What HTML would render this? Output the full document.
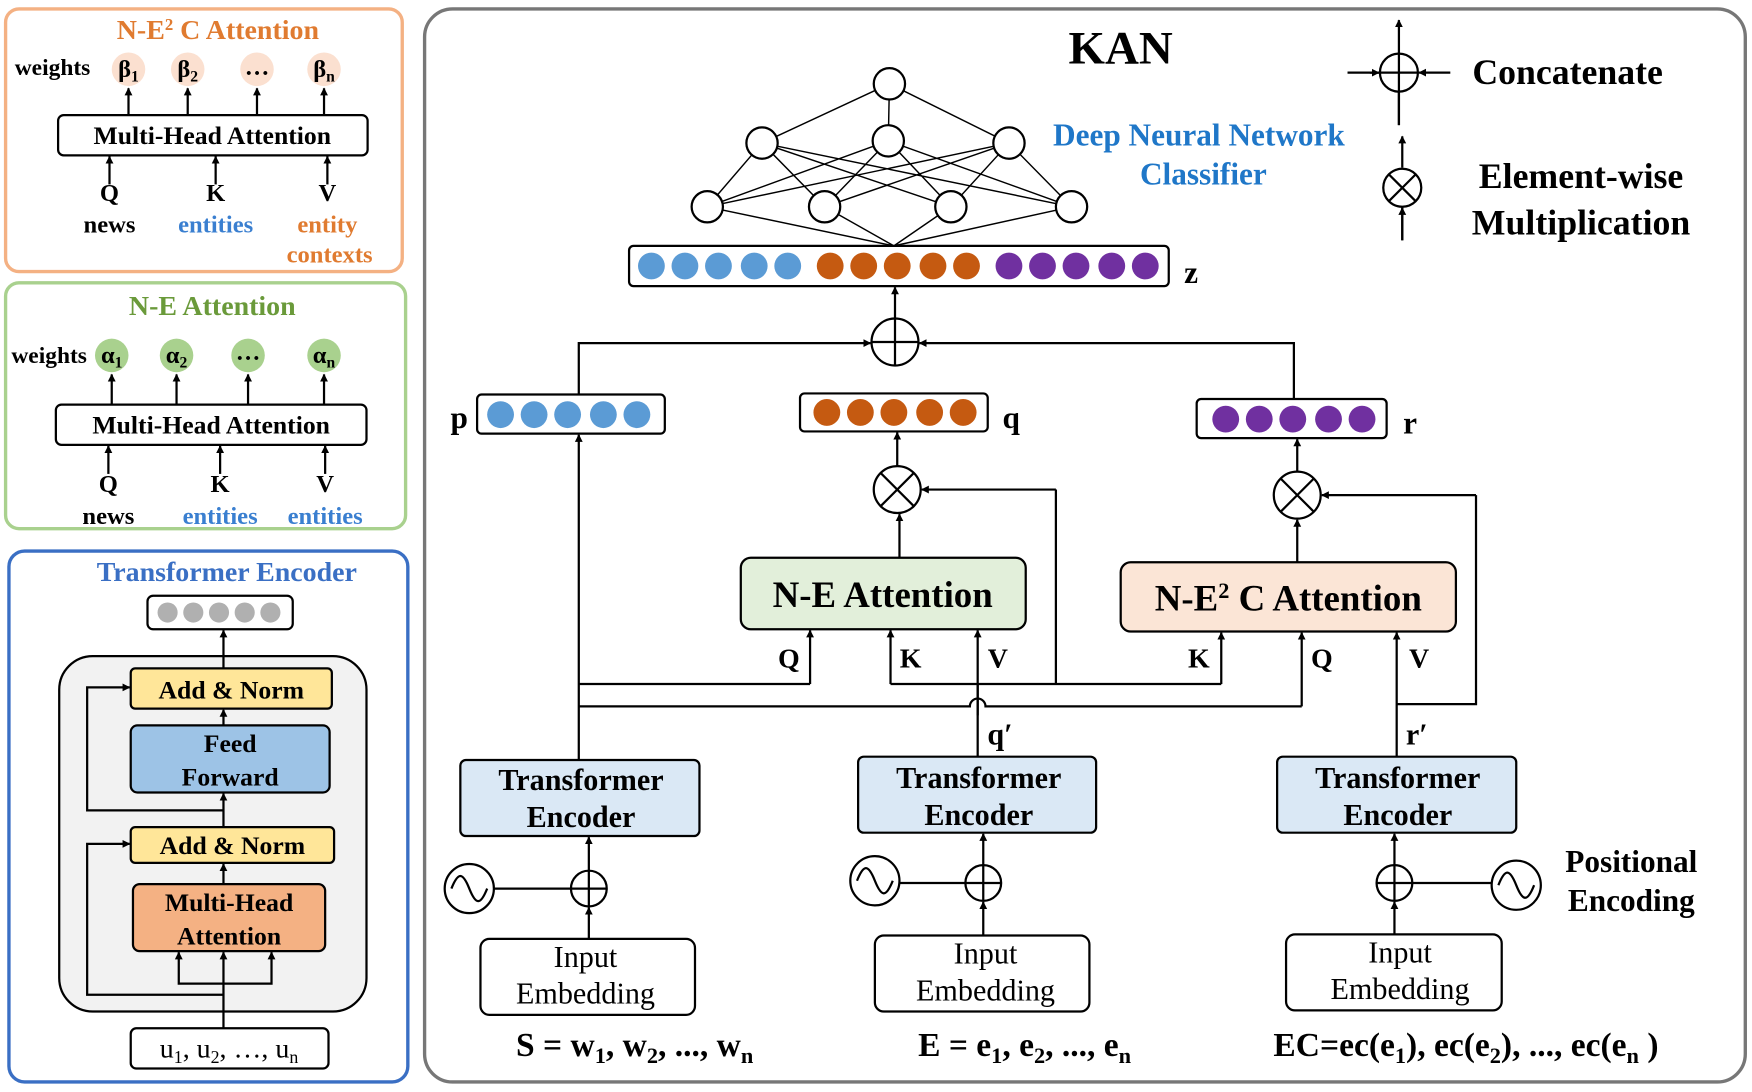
<!DOCTYPE html>
<html><head><meta charset="utf-8"><style>html,body{margin:0;padding:0;background:#fff}svg{display:block}text{font-family:"Liberation Serif",serif;font-weight:bold}</style></head><body>
<svg width="1752" height="1092" viewBox="0 0 1568 977" preserveAspectRatio="none" xmlns="http://www.w3.org/2000/svg">
<defs><marker id="a" viewBox="0 0 10 10" refX="9" refY="5" markerWidth="7" markerHeight="9" orient="auto-start-reverse" markerUnits="userSpaceOnUse"><path d="M0,0 L10,5 L0,10z" fill="#000"/></marker></defs>
<g stroke="#000" stroke-width="2" fill="none">
<rect x="5" y="8" width="355" height="235" rx="12" stroke="#f4b183" stroke-width="3"/>
<rect x="52" y="103" width="277" height="36" rx="5"/>
<rect x="5" y="253" width="358" height="220" rx="12" stroke="#a9d18e" stroke-width="3"/>
<rect x="50" y="362" width="278" height="36" rx="5"/>
<rect x="8" y="493" width="357" height="475" rx="14" stroke="#3a6fc4" stroke-width="3"/>
<rect x="53" y="587" width="275" height="318" rx="30" fill="#f2f2f2"/>
<rect x="132" y="533" width="130" height="30" rx="5" fill="#fff"/>
<rect x="117" y="598" width="180" height="36" rx="4" fill="#ffe699"/>
<rect x="117" y="649" width="178" height="60" rx="6" fill="#9dc3e6"/>
<rect x="117" y="740" width="182" height="32" rx="4" fill="#ffe699"/>
<rect x="119" y="791" width="172" height="60" rx="6" fill="#f4b183"/>
<rect x="117" y="920" width="177" height="36" rx="5" fill="#fff"/>
<rect x="380" y="8" width="1182" height="960" rx="25" stroke="#777" stroke-width="3"/>
</g>
<g fill="#fbe0d0"><circle cx="115" cy="62" r="15"/><circle cx="168" cy="62" r="15"/><circle cx="230" cy="62" r="15"/><circle cx="290" cy="62" r="15"/></g>
<g fill="#a9d18e"><circle cx="100" cy="318" r="15"/><circle cx="158" cy="318" r="15"/><circle cx="222" cy="318" r="15"/><circle cx="290" cy="318" r="15"/></g>
<g fill="#b0b0b0"><circle cx="150" cy="548" r="9"/><circle cx="173" cy="548" r="9"/><circle cx="196" cy="548" r="9"/><circle cx="219" cy="548" r="9"/><circle cx="242" cy="548" r="9"/></g>
<g stroke="#000" stroke-width="2" fill="none" marker-end="url(#a)">
<path d="M115 103V79"/><path d="M168 103V79"/><path d="M230 103V79"/><path d="M290 103V79"/>
<path d="M98 165V140"/><path d="M193 165V140"/><path d="M293 165V140"/>
<path d="M100 362V335"/><path d="M158 362V335"/><path d="M222 362V335"/><path d="M290 362V335"/>
<path d="M97 424V399"/><path d="M197 424V399"/><path d="M291 424V399"/>
<path d="M200 598V564"/><path d="M200 649V635"/><path d="M200 740V710"/><path d="M200 791V773"/>
<path d="M200 920V852"/><path d="M200 880H160V852"/><path d="M200 880H243V852"/>
<path d="M200 890H78V755H116"/><path d="M200 725H78V615H116"/>
</g>
<g font-size="22" text-anchor="middle">
<text x="195" y="35" fill="#e07b30" font-size="25">N-E<tspan font-size="15" dy="-8">2</tspan><tspan dy="8"> C Attention</tspan></text>
<text x="47" y="67" font-size="21">weights</text>
<text x="115" y="69">β<tspan font-size="14" dy="4">1</tspan></text><text x="168" y="69">β<tspan font-size="14" dy="4">2</tspan></text><text x="230" y="67">…</text><text x="290" y="69">β<tspan font-size="14" dy="4">n</tspan></text>
<text x="190" y="129" font-size="23">Multi-Head Attention</text>
<text x="98" y="180">Q</text><text x="193" y="180">K</text><text x="293" y="180">V</text>
<text x="98" y="208">news</text><text x="193" y="208" fill="#3a7fd0">entities</text><text x="293" y="208" fill="#e07b30">entity</text><text x="295" y="235" fill="#e07b30">contexts</text>
<text x="190" y="282" fill="#6a9a3a" font-size="25">N-E Attention</text>
<text x="44" y="325" font-size="21">weights</text>
<text x="100" y="325">α<tspan font-size="14" dy="4">1</tspan></text><text x="158" y="325">α<tspan font-size="14" dy="4">2</tspan></text><text x="222" y="322">…</text><text x="290" y="325">α<tspan font-size="14" dy="4">n</tspan></text>
<text x="189" y="388" font-size="23">Multi-Head Attention</text>
<text x="97" y="440">Q</text><text x="197" y="440">K</text><text x="291" y="440">V</text>
<text x="97" y="469">news</text><text x="197" y="469" fill="#3a7fd0">entities</text><text x="291" y="469" fill="#3a7fd0">entities</text>
<text x="203" y="520" fill="#3a6fc4" font-size="25">Transformer Encoder</text>
<text x="207" y="625" font-size="23">Add &amp; Norm</text>
<text x="206" y="673" font-size="23">Feed</text><text x="206" y="703" font-size="23">Forward</text>
<text x="208" y="764" font-size="23">Add &amp; Norm</text>
<text x="205" y="815" font-size="23">Multi-Head</text><text x="205" y="845" font-size="23">Attention</text>
<text x="205" y="946" font-size="25" style="font-weight:normal">u<tspan font-size="16" dy="5">1</tspan><tspan dy="-5">, u</tspan><tspan font-size="16" dy="5">2</tspan><tspan dy="-5">, …, u</tspan><tspan font-size="16" dy="5">n</tspan></text>
</g>

<g stroke="#000" stroke-width="1.3">
<path d="M796 75L682 128M796 75L795 126M796 75L903 128"/>
<path d="M682 128L633 185M682 128L738 185M682 128L851 185M682 128L959 185M795 126L633 185M795 126L738 185M795 126L851 185M795 126L959 185M903 128L633 185M903 128L738 185M903 128L851 185M903 128L959 185"/>
<path d="M633 185L800 220M738 185L800 220M851 185L800 220M959 185L800 220"/>
</g>
<g stroke="#000" stroke-width="2" fill="#fff">
<circle cx="796" cy="75" r="14"/><circle cx="682" cy="128" r="14"/><circle cx="795" cy="126" r="14"/><circle cx="903" cy="128" r="14"/>
<circle cx="633" cy="185" r="14"/><circle cx="738" cy="185" r="14"/><circle cx="851" cy="185" r="14"/><circle cx="959" cy="185" r="14"/>
<rect x="563" y="220" width="483" height="36" rx="4"/>
<rect x="427" y="353" width="168" height="35" rx="4"/>
<rect x="716" y="352" width="168" height="34" rx="4"/>
<rect x="1071" y="357" width="170" height="35" rx="4"/>
<rect x="663" y="499" width="255" height="64" rx="9" fill="#e2efda"/>
<rect x="1003" y="503" width="300" height="62" rx="9" fill="#fbe5d6"/>
<rect x="412" y="680" width="214" height="68" rx="5" fill="#dae8f5"/>
<rect x="768" y="677" width="213" height="68" rx="5" fill="#dae8f5"/>
<rect x="1143" y="677" width="214" height="68" rx="5" fill="#dae8f5"/>
<rect x="430" y="840" width="192" height="68" rx="8"/>
<rect x="783" y="837" width="192" height="68" rx="8"/>
<rect x="1151" y="836" width="193" height="68" rx="8"/>
</g>
<g fill="#5b9bd5"><circle cx="583" cy="238" r="12"/><circle cx="613" cy="238" r="12"/><circle cx="643" cy="238" r="12"/><circle cx="675" cy="238" r="12"/><circle cx="705" cy="238" r="12"/>
<circle cx="448" cy="371" r="12"/><circle cx="478" cy="371" r="12"/><circle cx="508" cy="371" r="12"/><circle cx="540" cy="371" r="12"/><circle cx="570" cy="371" r="12"/></g>
<g fill="#c55a11"><circle cx="743" cy="238" r="12"/><circle cx="773" cy="238" r="12"/><circle cx="803" cy="238" r="12"/><circle cx="835" cy="238" r="12"/><circle cx="865" cy="238" r="12"/>
<circle cx="740" cy="369" r="12"/><circle cx="770" cy="369" r="12"/><circle cx="800" cy="369" r="12"/><circle cx="832" cy="369" r="12"/><circle cx="862" cy="369" r="12"/></g>
<g fill="#7030a0"><circle cx="903" cy="238" r="12"/><circle cx="933" cy="238" r="12"/><circle cx="963" cy="238" r="12"/><circle cx="995" cy="238" r="12"/><circle cx="1025" cy="238" r="12"/>
<circle cx="1097" cy="375" r="12"/><circle cx="1127" cy="375" r="12"/><circle cx="1157" cy="375" r="12"/><circle cx="1189" cy="375" r="12"/><circle cx="1219" cy="375" r="12"/></g>

<g stroke="#000" stroke-width="2" fill="none">
<path d="M518 612H725M797 612H1093"/>
<path d="M518 632H868A7 7 0 0 1 882 632H1165"/>
<path d="M875 677V612"/>
<path d="M945 612V438"/>
<path d="M1250 630H1321V443"/>
<path d="M420 795H511M805 790H864M1264 790H1335"/>
<path d="M1226 65H1269M1252 82V112"/>
<path d="M1255 185V215"/>
</g>
<g stroke="#000" stroke-width="2" fill="none" marker-end="url(#a)">
<path d="M801 285V257"/>
<path d="M518 353V307H779"/>
<path d="M1158 357V307H823"/>
<path d="M803 417V387"/>
<path d="M1161 422V393"/>
<path d="M945 438H825"/>
<path d="M1321 443H1183"/>
<path d="M805 499V460"/>
<path d="M1161 503V465"/>
<path d="M725 612V564"/><path d="M797 612V564"/><path d="M875 640V564"/>
<path d="M1093 612V566"/><path d="M1165 632V566"/><path d="M1250 677V566"/>
<path d="M518 680V389"/>
<path d="M527 779V749"/><path d="M880 774V746"/><path d="M1248 774V746"/>
<path d="M527 840V812"/><path d="M880 837V807"/><path d="M1248 836V807"/>
<path d="M1206 65H1234"/><path d="M1298 65H1270"/><path d="M1252 112V48"/><path d="M1252 48V18"/>
<path d="M1255 215V186"/><path d="M1255 150V122"/>
</g>
<g stroke="#000" stroke-width="2" fill="#fff">
<circle cx="801" cy="306" r="21"/><path d="M780 306H822M801 285V327"/>
<circle cx="803" cy="438" r="21"/><path d="M788 423L818 453M818 423L788 453"/>
<circle cx="1161" cy="443" r="21"/><path d="M1146 428L1176 458M1176 428L1146 458"/>
<circle cx="1252" cy="65" r="17"/><path d="M1235 65H1269M1252 48V82"/>
<circle cx="1255" cy="168" r="17"/><path d="M1243 156L1267 180M1267 156L1243 180"/>
<circle cx="527" cy="795" r="16"/><path d="M511 795H543M527 779V811"/>
<circle cx="880" cy="790" r="16"/><path d="M864 790H896M880 774V806"/>
<circle cx="1248" cy="790" r="16"/><path d="M1232 790H1264M1248 774V806"/>
<circle cx="420" cy="795" r="22"/><path d="M404 795C410 780 414 780 420 795S430 810 436 795" fill="none"/>
<circle cx="783" cy="788" r="22"/><path d="M767 788C773 773 777 773 783 788S793 803 799 788" fill="none"/>
<circle cx="1357" cy="792" r="22"/><path d="M1341 792C1347 777 1351 777 1357 792S1367 807 1373 792" fill="none"/>
</g>
<g text-anchor="middle" font-size="28">
<text x="1003" y="57" font-size="42">KAN</text>
<text x="1403" y="75" font-size="32">Concatenate</text>
<text x="1415" y="168" font-size="32">Element-wise</text>
<text x="1415" y="210" font-size="32">Multiplication</text>
<text x="1073" y="130" fill="#1f77c8" font-size="28">Deep Neural Network</text>
<text x="1077" y="165" fill="#1f77c8" font-size="28">Classifier</text>
<text x="1066" y="253">z</text>
<text x="411" y="383">p</text>
<text x="905" y="383">q</text>
<text x="1262" y="388">r</text>
<text x="790" y="543" font-size="33">N-E Attention</text>
<text x="1153" y="546" font-size="33">N-E<tspan font-size="20" dy="-11">2</tspan><tspan dy="11"> C Attention</tspan></text>
<text x="706" y="597" font-size="25">Q</text><text x="815" y="597" font-size="25">K</text><text x="893" y="597" font-size="25">V</text>
<text x="1073" y="597" font-size="25">K</text><text x="1183" y="597" font-size="25">Q</text><text x="1270" y="597" font-size="25">V</text>
<text x="895" y="666" font-size="27">q′</text>
<text x="1268" y="666" font-size="27">r′</text>
<text x="520" y="707" font-size="27">Transformer</text><text x="520" y="740" font-size="27">Encoder</text>
<text x="876" y="705" font-size="27">Transformer</text><text x="876" y="738" font-size="27">Encoder</text>
<text x="1251" y="705" font-size="27">Transformer</text><text x="1251" y="738" font-size="27">Encoder</text>
<g font-size="27"><text x="524" y="865" style="font-weight:normal">Input</text><text x="524" y="898" style="font-weight:normal">Embedding</text>
<text x="882" y="862" style="font-weight:normal">Input</text><text x="882" y="895" style="font-weight:normal">Embedding</text>
<text x="1253" y="861" style="font-weight:normal">Input</text><text x="1253" y="894" style="font-weight:normal">Embedding</text></g>
<text x="1460" y="780" font-size="28">Positional</text><text x="1460" y="815" font-size="28">Encoding</text>
<text x="568" y="945" font-size="30">S = w<tspan font-size="20" dy="6">1</tspan><tspan dy="-6">, w</tspan><tspan font-size="20" dy="6">2</tspan><tspan dy="-6">, ..., w</tspan><tspan font-size="20" dy="6">n</tspan></text>
<text x="917" y="945" font-size="30">E = e<tspan font-size="20" dy="6">1</tspan><tspan dy="-6">, e</tspan><tspan font-size="20" dy="6">2</tspan><tspan dy="-6">, ..., e</tspan><tspan font-size="20" dy="6">n</tspan></text>
<text x="1312" y="945" font-size="30">EC=ec(e<tspan font-size="20" dy="6">1</tspan><tspan dy="-6">), ec(e</tspan><tspan font-size="20" dy="6">2</tspan><tspan dy="-6">), ..., ec(e</tspan><tspan font-size="20" dy="6">n</tspan><tspan dy="-6"> )</tspan></text>
</g>
</svg>
</body></html>
